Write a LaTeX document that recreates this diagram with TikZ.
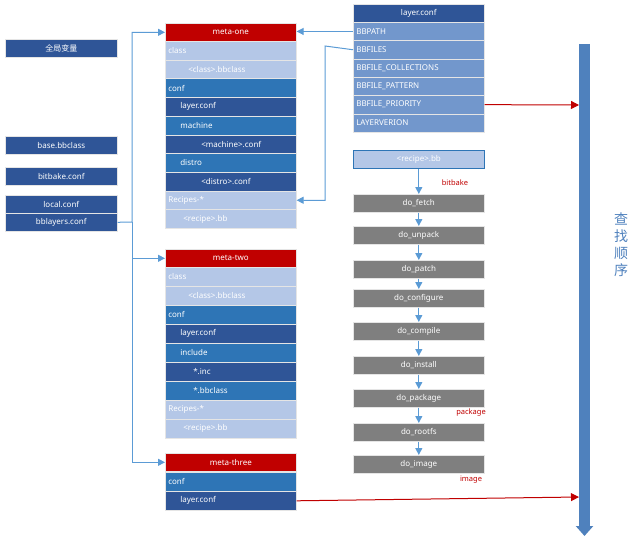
\documentclass[tikz,border=0pt]{standalone}
\usepackage{fontspec}
\setmainfont{Noto Sans}
\newfontfamily\cjk{Noto Sans CJK SC}
\usetikzlibrary{arrows.meta,positioning}
\definecolor{hdred}{RGB}{192,0,0}
\definecolor{rowlight}{RGB}{180,199,231}
\definecolor{rowmid}{RGB}{46,117,182}
\definecolor{rowdark}{RGB}{47,85,151}
\definecolor{rowconf}{RGB}{114,151,204}
\definecolor{stepgray}{RGB}{127,127,127}
\definecolor{linkblue}{RGB}{91,155,213}
\definecolor{barblue}{RGB}{79,129,189}

\tikzset{
  box/.style={draw=white!80!gray, line width=0.6pt, text=white, font=\fontsize{8}{9}\selectfont, inner sep=0pt, minimum width=131pt},
  row/.style={box, anchor=north west, minimum height=#1, text width=125pt, align=left},
  head/.style={box, anchor=north west, minimum height=18pt, align=center},
  leftbox/.style={box, fill=rowdark, anchor=north west, minimum width=112pt, minimum height=18pt},
  stepbox/.style={box, fill=stepgray, anchor=north west, minimum height=18pt},
  link/.style={draw=linkblue, line width=1pt, -{Triangle[length=7pt,width=7pt]}},
  redlink/.style={draw=hdred, line width=1pt, -{Triangle[length=8pt,width=8pt]}},
  note/.style={text=hdred, font=\fontsize{7.5}{9}\selectfont, inner sep=0pt}
}

\begin{document}
\begin{tikzpicture}[x=1pt,y=-1pt]
    \useasboundingbox (0,0) rectangle (637,543);

    % Left column
    \node[leftbox] (global) at (5,39) {\cjk 全局变量};
    \node[leftbox] (base) at (5,136) {base.bbclass};
    \node[leftbox] (bitbake) at (5,167) {bitbake.conf};
    \node[leftbox] (local) at (5,195) {local.conf};
    \node[leftbox] (bblayers) at (5,213) {bblayers.conf};

    % meta-one
    \node[head, fill=hdred] (one) at (165,23) {meta-one};
    \foreach \i/\c/\ind/\t in {
        1/rowlight/0/class,
        2/rowlight/20/<class>.bbclass,
        3/rowmid/0/conf,
        4/rowdark/12/layer.conf,
        5/rowmid/12/machine,
        6/rowdark/33/<machine>.conf,
        7/rowmid/12/distro,
        8/rowdark/33/<distro>.conf,
        9/rowlight/0/Recipes-*,
        10/rowlight/15/<recipe>.bb
    } {
        \node[row=18.7pt, fill=\c] (one\i) at (165,{41+18.7*(\i-1)}) {\hspace*{\ind pt}\t};
    }

    % meta-two
    \node[head, fill=hdred] (two) at (165,249) {meta-two};
    \foreach \i/\c/\ind/\t in {
        1/rowlight/0/class,
        2/rowlight/20/<class>.bbclass,
        3/rowmid/0/conf,
        4/rowdark/12/layer.conf,
        5/rowmid/12/include,
        6/rowdark/25/*.inc,
        7/rowmid/25/*.bbclass,
        8/rowlight/0/Recipes-*,
        9/rowlight/15/<recipe>.bb
    } {
        \node[row=19pt, fill=\c] (two\i) at (165,{267+19*(\i-1)}) {\hspace*{\ind pt}\t};
    }

    % meta-three
    \node[head, fill=hdred] (three) at (165,453) {meta-three};
    \node[row=19pt, fill=rowmid] (three1) at (165,472) {conf};
    \node[row=19pt, fill=rowdark] (three2) at (165,491) {\hspace*{12pt}layer.conf};

    % layer.conf
    \node[head, fill=rowdark] (layer) at (353,4) {layer.conf};
    \foreach \i/\t in {1/BBPATH, 2/BBFILES, 3/BBFILE\_COLLECTIONS, 4/BBFILE\_PATTERN, 5/BBFILE\_PRIORITY, 6/LAYERVERION} {
        \node[row=18.3pt, fill=rowconf] (layer\i) at (353,{22+18.3*(\i-1)}) {\t};
    }

    % Tasks
    \node[box, anchor=north west, minimum height=18pt, fill=rowlight, draw=rowmid] (recipe) at (353,150) {<recipe>.bb};
    \foreach \n/\y/\t in {fetch/194/do\_fetch, unpack/226/do\_unpack, patch/260/do\_patch, configure/289/do\_configure, compile/322/do\_compile, install/356/do\_install, package/389/do\_package, rootfs/423/do\_rootfs, image/455/do\_image} {
        \node[stepbox] (\n) at (353,\y) {\t};
    }
    \draw[link] (recipe) -- (fetch);
    \foreach \a/\b in {fetch/unpack, unpack/patch, patch/configure, configure/compile, compile/install, install/package, package/rootfs, rootfs/image} {
        \draw[link] (\a) -- (\b);
    }
    \node[note] (nbitbake) at (455,183) {bitbake};
    \node[note] (npackage) at (471,413) {package};
    \node[note] (nimage) at (471,480) {image};

    % Search order
    \coordinate (bartop) at (584.5,44);
    \coordinate (barend) at (584.5,536);
    \draw[barblue, line width=11pt, -{Triangle[length=10pt,width=17pt]}] (bartop) -- (barend);
    \node[text=barblue, font=\cjk\fontsize{14}{17}\selectfont, align=center] (order) at (621,245) {查\\找\\顺\\序};

    % Links
    \coordinate (fork) at (132,222);
    \coordinate (barin1) at (579,105);
    \coordinate (barin2) at (579,497);
    \draw[link] (bblayers.east) -- (fork) |- (one.west);
    \draw[link] (fork) |- (two.west);
    \draw[link] (fork) |- (three.west);
    \draw[link] (layer1.west) -- (one.east |- layer1.west);
    \draw[link] (layer2.west) -- (325,46) |- (one9.east);
    \draw[redlink] (layer5.east) -- (barin1);
    \draw[redlink] (three2.east) -- (barin2);
\end{tikzpicture}
\end{document}
